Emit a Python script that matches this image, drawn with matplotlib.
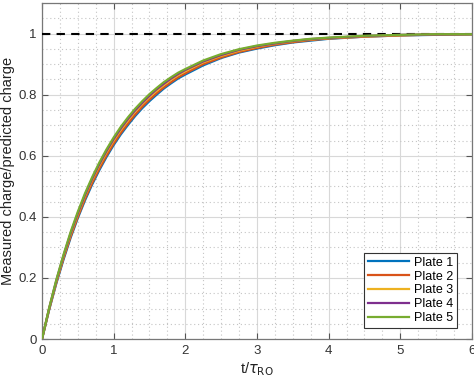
import matplotlib
matplotlib.use("Agg")
import matplotlib.pyplot as plt
from matplotlib.ticker import MultipleLocator

plt.rcParams['font.family'] = ['Liberation Sans', 'DejaVu Sans']
plt.rcParams['mathtext.fontset'] = 'dejavusans'

t = [0, 0.1, 0.2, 0.3, 0.4, 0.5, 0.6, 0.7, 0.8, 0.9, 1.0, 1.1, 1.2, 1.3, 1.4,
     1.5, 1.6, 1.7, 1.8, 1.9, 2.0, 2.25, 2.5, 2.75, 3.0, 3.25, 3.5, 3.75, 4.0,
     4.5, 5.0, 5.5, 6.0]

plate1 = [0, 0.096, 0.182, 0.260, 0.332, 0.396, 0.454, 0.506, 0.553, 0.596, 0.635,
          0.670, 0.701, 0.730, 0.756, 0.779, 0.800, 0.820, 0.837, 0.853, 0.866,
          0.896, 0.920, 0.938, 0.951, 0.962, 0.971, 0.977, 0.983, 0.990, 0.994,
          0.996, 0.998]
plate2 = [0, 0.097, 0.185, 0.264, 0.336, 0.400, 0.459, 0.511, 0.558, 0.601, 0.640,
          0.675, 0.706, 0.735, 0.761, 0.784, 0.805, 0.824, 0.841, 0.857, 0.870,
          0.900, 0.922, 0.940, 0.953, 0.964, 0.972, 0.979, 0.984, 0.990, 0.994,
          0.997, 0.998]
plate3 = [0, 0.100, 0.189, 0.270, 0.343, 0.408, 0.468, 0.521, 0.568, 0.611, 0.650,
          0.685, 0.716, 0.745, 0.770, 0.793, 0.813, 0.832, 0.849, 0.864, 0.877,
          0.906, 0.927, 0.944, 0.957, 0.967, 0.975, 0.981, 0.985, 0.991, 0.995,
          0.997, 0.998]
plate4 = [0, 0.101, 0.192, 0.273, 0.347, 0.412, 0.472, 0.525, 0.573, 0.616, 0.655,
          0.690, 0.721, 0.749, 0.774, 0.797, 0.818, 0.836, 0.853, 0.868, 0.881,
          0.909, 0.930, 0.947, 0.959, 0.968, 0.976, 0.982, 0.986, 0.992, 0.996,
          0.997, 0.998]
plate5 = [0, 0.102, 0.194, 0.276, 0.351, 0.417, 0.477, 0.530, 0.578, 0.621, 0.660,
          0.695, 0.726, 0.754, 0.779, 0.802, 0.822, 0.841, 0.857, 0.872, 0.884,
          0.912, 0.933, 0.949, 0.961, 0.970, 0.977, 0.983, 0.987, 0.993, 0.996,
          0.998, 0.998]

series = [plate1, plate2, plate3, plate4, plate5]
labels = ['Plate 1', 'Plate 2', 'Plate 3', 'Plate 4', 'Plate 5']
colors = ['#0072BD', '#D95319', '#EDB120', '#7E2F8E', '#77AC30']
ref_level = 1.0

fig = plt.figure(figsize=(4.74, 3.84), dpi=100)
ax = fig.add_axes([0.0886, 0.117, 0.907, 0.875])

ax.axhline(ref_level, color='black', linestyle=(0, (4, 3)), linewidth=1.5, zorder=3)
for y, lab, c in zip(series, labels, colors):
    ax.plot(t, y, color=c, linewidth=1.6, label=lab, zorder=4)

ax.set_xlim(0, 6)
ax.set_ylim(0, 1.1)
ax.xaxis.set_major_locator(MultipleLocator(1))
ax.xaxis.set_minor_locator(MultipleLocator(0.25))
ax.yaxis.set_minor_locator(MultipleLocator(0.05))
ax.set_yticks([0, 0.2, 0.4, 0.6, 0.8, 1])
ax.set_yticklabels(['0', '0.2', '0.4', '0.6', '0.8', '1'])

ax.grid(which='major', color='#d8d8d8', linestyle='-', linewidth=0.8)
ax.grid(which='minor', color='#c4c4c4', linestyle=(0, (1, 2.5)), linewidth=0.8)
ax.set_axisbelow(True)

ax.tick_params(which='major', direction='in', length=4, top=True, right=True,
               labelsize=9.5, color='#555555', labelcolor='#333333', pad=4)
ax.tick_params(which='minor', length=0)
for s in ax.spines.values():
    s.set_color('#777777')
    s.set_linewidth(0.9)

ax.set_xlabel(r't/$\tau_{\rm RO}$', fontsize=10.5, color='#222222', labelpad=3)
ax.set_ylabel('Measured charge/predicted charge', fontsize=10.5, color='#222222', labelpad=2)

leg = ax.legend(loc='lower right', bbox_to_anchor=(0.965, 0.033), borderaxespad=0,
                fancybox=False, edgecolor='#333333', framealpha=1, fontsize=9,
                handlelength=3.3, labelspacing=0.15, borderpad=0.3, handletextpad=0.4)
leg.get_frame().set_linewidth(0.8)

fig.savefig('out.png', dpi=100)
